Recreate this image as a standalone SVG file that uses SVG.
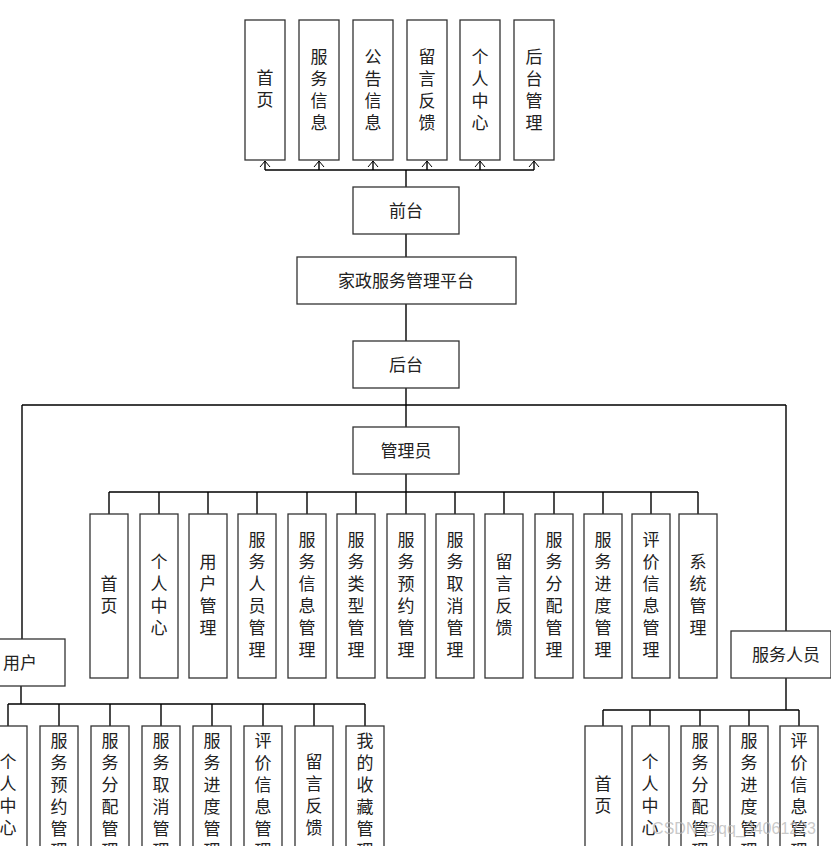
<svg xmlns="http://www.w3.org/2000/svg" width="831" height="846" viewBox="0 0 831 846">
<style>
.b{fill:#fff;stroke:#333;stroke-width:1.3}
.t{font-family:"Noto Sans CJK SC","Noto Sans CJK JP",sans-serif;font-size:17px;fill:#222;text-anchor:middle}
.c{fill:none;stroke:#000;stroke-width:1.4}
.ar{marker-end:url(#a)}
</style>
<defs>
<marker id="a" markerWidth="12" markerHeight="10" refX="6" refY="1" orient="0" markerUnits="userSpaceOnUse" viewBox="0 0 12 10"><path d="M1 7 L6 1 L11 7" fill="none" stroke="#000" stroke-width="1"/></marker>
</defs>
<rect width="831" height="846" fill="#fff"/>
<g id="connectors" class="c">
<path d="M406 187V170M265 170H534"/>
<path class="ar" d="M265 170V161"/><path class="ar" d="M319 170V161"/><path class="ar" d="M373 170V161"/><path class="ar" d="M427 170V161"/><path class="ar" d="M480 170V161"/><path class="ar" d="M534 170V161"/>
<path d="M406 234V257M406 304V341M406 388V427M22 405H786M22 405V639M786 405V631"/>
<path d="M406 474V492M109 492H698M109 492V514M159 492V514M208 492V514M257 492V514M307 492V514M356 492V514M406 492V514M455 492V514M504 492V514M554 492V514M603 492V514M651 492V514M698 492V514"/>
<path d="M21 686V704M8 704H365M8 704V726M59 704V726M110 704V726M161 704V726M212 704V726M263 704V726M314 704V726M365 704V726"/>
<path d="M786 678V710M603 710H799M603 710V726M650 710V726M700 710V726M749 710V726M799 710V726"/>
</g>
<g id="top">
<g id="n1"><rect class="b" x="245" y="20" width="40" height="140"/><text class="t" x="265" y="84">首<tspan x="265" dy="22">页</tspan></text></g>
<g id="n2"><rect class="b" x="299" y="20" width="40" height="140"/><text class="t" x="319" y="63">服<tspan x="319" dy="22">务</tspan><tspan x="319" dy="22">信</tspan><tspan x="319" dy="22">息</tspan></text></g>
<g id="n3"><rect class="b" x="353" y="20" width="40" height="140"/><text class="t" x="373" y="63">公<tspan x="373" dy="22">告</tspan><tspan x="373" dy="22">信</tspan><tspan x="373" dy="22">息</tspan></text></g>
<g id="n4"><rect class="b" x="407" y="20" width="40" height="140"/><text class="t" x="427" y="63">留<tspan x="427" dy="22">言</tspan><tspan x="427" dy="22">反</tspan><tspan x="427" dy="22">馈</tspan></text></g>
<g id="n5"><rect class="b" x="460" y="20" width="40" height="140"/><text class="t" x="480" y="63">个<tspan x="480" dy="22">人</tspan><tspan x="480" dy="22">中</tspan><tspan x="480" dy="22">心</tspan></text></g>
<g id="n6"><rect class="b" x="514" y="20" width="40" height="140"/><text class="t" x="534" y="63">后<tspan x="534" dy="22">台</tspan><tspan x="534" dy="22">管</tspan><tspan x="534" dy="22">理</tspan></text></g>
</g>
<g id="qiantai"><rect class="b" x="353" y="187" width="106" height="47"/><text class="t" x="406" y="217">前台</text></g>
<g id="platform"><rect class="b" x="297" y="257" width="219" height="47"/><text class="t" x="406" y="287">家政服务管理平台</text></g>
<g id="houtai"><rect class="b" x="353" y="341" width="106" height="47"/><text class="t" x="406" y="371">后台</text></g>
<g id="admin"><rect class="b" x="353" y="427" width="106" height="47"/><text class="t" x="406" y="457">管理员</text></g>
<g id="user"><rect class="b" x="-2" y="639" width="67" height="47"/><text class="t" x="20" y="669">用户</text></g>
<g id="staff"><rect class="b" x="731" y="631" width="100" height="47"/><text class="t" x="786" y="661">服务人员</text></g>
<g id="admin-children">
<g id="a1"><rect class="b" x="90" y="514" width="38" height="164"/><text class="t" x="109" y="590">首<tspan x="109" dy="22">页</tspan></text></g>
<g id="a2"><rect class="b" x="140" y="514" width="38" height="164"/><text class="t" x="159" y="568">个<tspan x="159" dy="22">人</tspan><tspan x="159" dy="22">中</tspan><tspan x="159" dy="22">心</tspan></text></g>
<g id="a3"><rect class="b" x="189" y="514" width="38" height="164"/><text class="t" x="208" y="568">用<tspan x="208" dy="22">户</tspan><tspan x="208" dy="22">管</tspan><tspan x="208" dy="22">理</tspan></text></g>
<g id="a4"><rect class="b" x="238" y="514" width="38" height="164"/><text class="t" x="257" y="546">服<tspan x="257" dy="22">务</tspan><tspan x="257" dy="22">人</tspan><tspan x="257" dy="22">员</tspan><tspan x="257" dy="22">管</tspan><tspan x="257" dy="22">理</tspan></text></g>
<g id="a5"><rect class="b" x="288" y="514" width="38" height="164"/><text class="t" x="307" y="546">服<tspan x="307" dy="22">务</tspan><tspan x="307" dy="22">信</tspan><tspan x="307" dy="22">息</tspan><tspan x="307" dy="22">管</tspan><tspan x="307" dy="22">理</tspan></text></g>
<g id="a6"><rect class="b" x="337" y="514" width="38" height="164"/><text class="t" x="356" y="546">服<tspan x="356" dy="22">务</tspan><tspan x="356" dy="22">类</tspan><tspan x="356" dy="22">型</tspan><tspan x="356" dy="22">管</tspan><tspan x="356" dy="22">理</tspan></text></g>
<g id="a7"><rect class="b" x="387" y="514" width="38" height="164"/><text class="t" x="406" y="546">服<tspan x="406" dy="22">务</tspan><tspan x="406" dy="22">预</tspan><tspan x="406" dy="22">约</tspan><tspan x="406" dy="22">管</tspan><tspan x="406" dy="22">理</tspan></text></g>
<g id="a8"><rect class="b" x="436" y="514" width="38" height="164"/><text class="t" x="455" y="546">服<tspan x="455" dy="22">务</tspan><tspan x="455" dy="22">取</tspan><tspan x="455" dy="22">消</tspan><tspan x="455" dy="22">管</tspan><tspan x="455" dy="22">理</tspan></text></g>
<g id="a9"><rect class="b" x="485" y="514" width="38" height="164"/><text class="t" x="504" y="568">留<tspan x="504" dy="22">言</tspan><tspan x="504" dy="22">反</tspan><tspan x="504" dy="22">馈</tspan></text></g>
<g id="a10"><rect class="b" x="535" y="514" width="38" height="164"/><text class="t" x="554" y="546">服<tspan x="554" dy="22">务</tspan><tspan x="554" dy="22">分</tspan><tspan x="554" dy="22">配</tspan><tspan x="554" dy="22">管</tspan><tspan x="554" dy="22">理</tspan></text></g>
<g id="a11"><rect class="b" x="584" y="514" width="38" height="164"/><text class="t" x="603" y="546">服<tspan x="603" dy="22">务</tspan><tspan x="603" dy="22">进</tspan><tspan x="603" dy="22">度</tspan><tspan x="603" dy="22">管</tspan><tspan x="603" dy="22">理</tspan></text></g>
<g id="a12"><rect class="b" x="632" y="514" width="38" height="164"/><text class="t" x="651" y="546">评<tspan x="651" dy="22">价</tspan><tspan x="651" dy="22">信</tspan><tspan x="651" dy="22">息</tspan><tspan x="651" dy="22">管</tspan><tspan x="651" dy="22">理</tspan></text></g>
<g id="a13"><rect class="b" x="679" y="514" width="38" height="164"/><text class="t" x="698" y="568">系<tspan x="698" dy="22">统</tspan><tspan x="698" dy="22">管</tspan><tspan x="698" dy="22">理</tspan></text></g>
</g>
<g id="user-children">
<g id="u1"><rect class="b" x="-11" y="726" width="38" height="164"/><text class="t" x="8" y="768">个<tspan x="8" dy="22">人</tspan><tspan x="8" dy="22">中</tspan><tspan x="8" dy="22">心</tspan></text></g>
<g id="u2"><rect class="b" x="40" y="726" width="38" height="164"/><text class="t" x="59" y="747">服<tspan x="59" dy="22">务</tspan><tspan x="59" dy="22">预</tspan><tspan x="59" dy="22">约</tspan><tspan x="59" dy="22">管</tspan><tspan x="59" dy="22">理</tspan></text></g>
<g id="u3"><rect class="b" x="91" y="726" width="38" height="164"/><text class="t" x="110" y="747">服<tspan x="110" dy="22">务</tspan><tspan x="110" dy="22">分</tspan><tspan x="110" dy="22">配</tspan><tspan x="110" dy="22">管</tspan><tspan x="110" dy="22">理</tspan></text></g>
<g id="u4"><rect class="b" x="142" y="726" width="38" height="164"/><text class="t" x="161" y="747">服<tspan x="161" dy="22">务</tspan><tspan x="161" dy="22">取</tspan><tspan x="161" dy="22">消</tspan><tspan x="161" dy="22">管</tspan><tspan x="161" dy="22">理</tspan></text></g>
<g id="u5"><rect class="b" x="193" y="726" width="38" height="164"/><text class="t" x="212" y="747">服<tspan x="212" dy="22">务</tspan><tspan x="212" dy="22">进</tspan><tspan x="212" dy="22">度</tspan><tspan x="212" dy="22">管</tspan><tspan x="212" dy="22">理</tspan></text></g>
<g id="u6"><rect class="b" x="244" y="726" width="38" height="164"/><text class="t" x="263" y="747">评<tspan x="263" dy="22">价</tspan><tspan x="263" dy="22">信</tspan><tspan x="263" dy="22">息</tspan><tspan x="263" dy="22">管</tspan><tspan x="263" dy="22">理</tspan></text></g>
<g id="u7"><rect class="b" x="295" y="726" width="38" height="164"/><text class="t" x="314" y="768">留<tspan x="314" dy="22">言</tspan><tspan x="314" dy="22">反</tspan><tspan x="314" dy="22">馈</tspan></text></g>
<g id="u8"><rect class="b" x="346" y="726" width="38" height="164"/><text class="t" x="365" y="747">我<tspan x="365" dy="22">的</tspan><tspan x="365" dy="22">收</tspan><tspan x="365" dy="22">藏</tspan><tspan x="365" dy="22">管</tspan><tspan x="365" dy="22">理</tspan></text></g>
</g>
<g id="staff-children">
<g id="s1"><rect class="b" x="585" y="726" width="37" height="164"/><text class="t" x="603" y="790">首<tspan x="603" dy="22">页</tspan></text></g>
<g id="s2"><rect class="b" x="632" y="726" width="37" height="164"/><text class="t" x="650" y="768">个<tspan x="650" dy="22">人</tspan><tspan x="650" dy="22">中</tspan><tspan x="650" dy="22">心</tspan></text></g>
<g id="s3"><rect class="b" x="681" y="726" width="37" height="164"/><text class="t" x="700" y="747">服<tspan x="700" dy="22">务</tspan><tspan x="700" dy="22">分</tspan><tspan x="700" dy="22">配</tspan><tspan x="700" dy="22">管</tspan><tspan x="700" dy="22">理</tspan></text></g>
<g id="s4"><rect class="b" x="730" y="726" width="38" height="164"/><text class="t" x="749" y="747">服<tspan x="749" dy="22">务</tspan><tspan x="749" dy="22">进</tspan><tspan x="749" dy="22">度</tspan><tspan x="749" dy="22">管</tspan><tspan x="749" dy="22">理</tspan></text></g>
<g id="s5"><rect class="b" x="780" y="726" width="38" height="164"/><text class="t" x="799" y="747">评<tspan x="799" dy="22">价</tspan><tspan x="799" dy="22">信</tspan><tspan x="799" dy="22">息</tspan><tspan x="799" dy="22">管</tspan><tspan x="799" dy="22">理</tspan></text></g>
</g>
<text x="816" y="834" font-family="Liberation Sans,sans-serif" font-size="16" fill="#bbb" fill-opacity="0.8" text-anchor="end">CSDN @qq_34061223</text>
</svg>
